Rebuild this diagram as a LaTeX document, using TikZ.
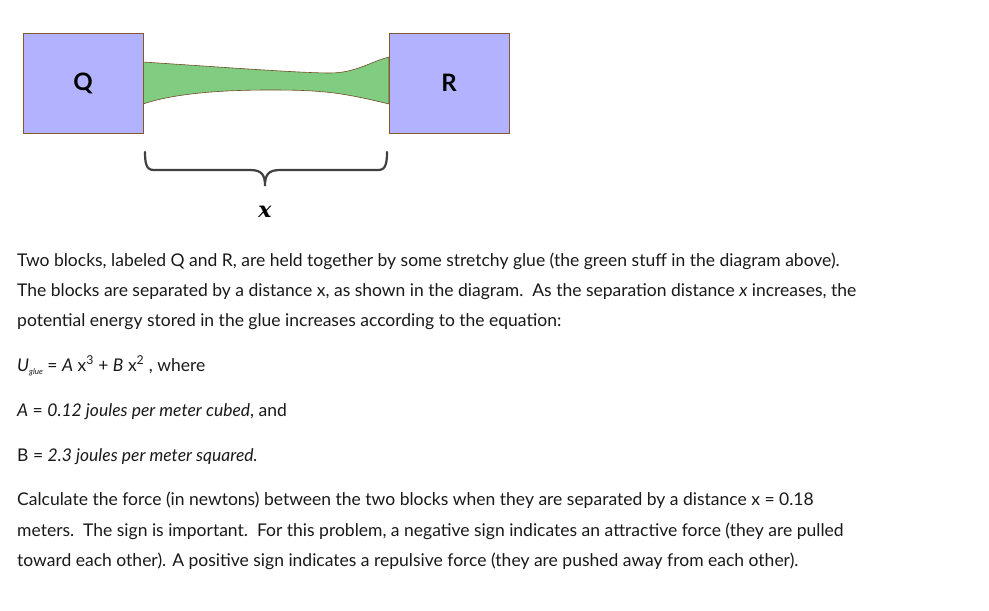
\documentclass[tikz,border=0pt]{standalone}
\usepackage{fontspec}
\setmainfont{Lato}
\newfontfamily\xserif{DejaVu Serif}
\begin{document}
\begin{tikzpicture}[x=1pt,y=-1pt,
  blk/.style={draw=brown!70!black,fill=blue!30,line width=0.8pt},
  txt/.style={anchor=base west,inner sep=0pt,font=\fontsize{17.5}{20}\selectfont,text=black!90}]
\useasboundingbox (0,0) rectangle (989,611);
\draw[brown!60!black,fill=green!60!black!50!white, line width=0.6pt]
  (143,62) .. controls (220,67) and (300,73) .. (330,73) .. controls (355,73) and (370,62) .. (389,57)
  -- (389,104) .. controls (340,92) and (320,90) .. (270,90) .. controls (210,90) and (170,95) .. (143,104) -- cycle;
\node[blk,minimum width=120,minimum height=100] (q) at (83,83) {\fontsize{24}{24}\selectfont\textbf{Q}};
\node[blk,minimum width=120,minimum height=100] (r) at (449,83) {\fontsize{24}{24}\selectfont\textbf{R}};
\draw[black!75,line width=2.2pt,line cap=round]
 (145,152) .. controls (145,172) and (150,170) .. (160,170) -- (250,170) .. controls (262,170) and (265,175) .. (265,186)
 .. controls (265,175) and (268,170) .. (280,170) -- (372,170) .. controls (382,170) and (387,172) .. (387,152);
\node[font=\xserif\fontsize{22}{22}\selectfont] (xl) at (265,212) {\textbf{\textit{x}}};
\node[txt] (l1) at (17,266) {Two blocks, labeled Q and R, are held together by some stretchy glue (the green stuff in the diagram above).};
\node[txt] (l2) at (17,296) {The blocks are separated by a distance x, as shown in the diagram.\ \ As the separation distance \textit{x} increases, the};
\node[txt] (l3) at (17,326) {potential energy stored in the glue increases according to the equation:};
\node[txt] (l4) at (17,371) {\textit{U}\raisebox{-0.35ex}{\textit{\footnotesize glue}} = \textit{A} x\textsuperscript{3} + \textit{B} x\textsuperscript{2} , where};
\node[txt] (l5) at (17,416) {\textit{A} = \textit{0.12 joules per meter cubed}, and};
\node[txt] (l6) at (17,461) {B = \textit{2.3 joules per meter squared.}};
\node[txt] (l7) at (17,505) {Calculate the force (in newtons) between the two blocks when they are separated by a distance x = 0.18};
\node[txt] (l8) at (17,536) {meters.\ \ The sign is important.\ \ For this problem, a negative sign indicates an attractive force (they are pulled};
\node[txt] (l9) at (17,566) {toward each other). A positive sign indicates a repulsive force (they are pushed away from each other).};
\end{tikzpicture}
\end{document}
